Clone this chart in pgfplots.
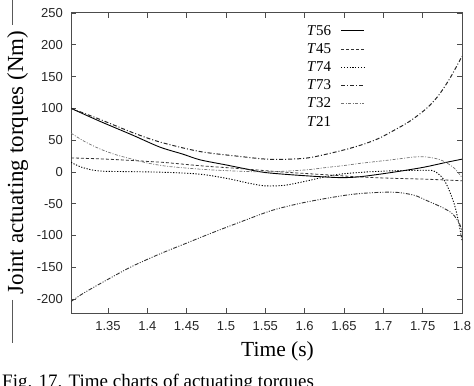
\documentclass[border=0pt]{standalone}
\usepackage{fontspec}
\setmainfont{Liberation Serif}
\newfontfamily\sansf{Liberation Sans}
\usepackage{pgfplots}
\pgfplotsset{compat=1.18}
\begin{document}
\begin{tikzpicture}
\useasboundingbox (0,0) rectangle (474bp,386bp);
\clip (0,0) rectangle (474bp,386bp);
\begin{axis}[
  at={(71bp,73bp)}, anchor=south west,
  scale only axis, width=391bp, height=300bp,
  xmin=1.303, xmax=1.8, ymin=-222, ymax=250,
  xtick={1.35,1.4,1.45,1.5,1.55,1.6,1.65,1.7,1.75,1.8},
  xticklabels={1.35,1.4,1.45,1.5,1.55,1.6,1.65,1.7,1.75,1.8},
  ytick={-200,-150,-100,-50,0,50,100,150,200,250},
  yticklabels={-200,-150,-100,-50,0,50,100,150,200,250},
  tick align=inside, major tick length=5bp,
  every tick/.style={gray!60!black, line width=0.6bp},
  axis line style={gray!60!black, line width=1bp},
  xticklabel style={font=\sansf\fontsize{13bp}{15bp}\selectfont, inner sep=0pt, yshift=-8bp, text=black!85},
  yticklabel style={font=\sansf\fontsize{13bp}{15bp}\selectfont, inner sep=0pt, xshift=-8bp, text=black!85},
  legend plot pos=right,
  legend cell align=left,
  legend image code/.code={\draw[#1] (0bp,0bp) -- (23bp,0bp);},
  legend style={draw=none, fill=none, at={(rel axis cs:0.603,0.96)}, anchor=north west,
    inner sep=0pt, row sep=6.8bp, column sep=9.5bp,
    nodes={inner sep=0pt, font=\fontsize{15bp}{17bp}\selectfont}},
]
% T56 solid
\addplot[black, line width=0.9bp, smooth] coordinates {
(1.303,100) (1.339,80) (1.381,58) (1.416,39) (1.445,28) (1.467,19) (1.5,11) (1.52,6)
(1.55,-1) (1.6,-6) (1.645,-9) (1.671,-7.5) (1.71,-1) (1.75,7) (1.78,15) (1.8,20)};
\addlegendentry{\textit{T}56}
% T45 dashed
\addplot[black!80, line width=0.8bp, dash pattern=on 3bp off 2bp, smooth] coordinates {
(1.303,22) (1.35,20) (1.4,16.5) (1.424,14.6) (1.47,9.4) (1.52,5) (1.57,0) (1.62,-4)
(1.671,-8) (1.71,-10) (1.755,-11.5) (1.8,-14)};
\addlegendentry{\textit{T}45}
% T74 dotted
\addplot[black, line width=0.9bp, dash pattern=on 1.2bp off 1.6bp, smooth, tension=0.5] coordinates {
(1.303,15) (1.315,8) (1.33,3) (1.345,1) (1.37,0.5) (1.4,0) (1.43,-1) (1.467,-3.6)
(1.5,-10) (1.53,-18) (1.55,-22) (1.575,-21) (1.6,-15) (1.625,-8) (1.645,-3.6) (1.68,0)
(1.72,2) (1.755,2.5) (1.765,1) (1.775,-9) (1.782,-24) (1.79,-50) (1.795,-75) (1.8,-108)};
\addlegendentry{\textit{T}74}
% T73 dash-dot
\addplot[black!85, line width=1bp, dash pattern=on 4bp off 2bp on 1bp off 2bp, smooth] coordinates {
(1.303,100) (1.339,83) (1.381,62) (1.416,47) (1.467,32) (1.52,24) (1.552,20) (1.58,20)
(1.607,22.5) (1.645,33) (1.671,42) (1.693,52) (1.713,65) (1.734,80) (1.755,100) (1.77,120)
(1.785,148) (1.8,182)};
\addlegendentry{\textit{T}73}
% T32 thin dash-dot
\addplot[black!55, line width=0.7bp, dash pattern=on 3bp off 1.5bp on 1bp off 1.5bp, smooth] coordinates {
(1.303,61) (1.32,48) (1.34,36) (1.36,27) (1.381,20) (1.4,14) (1.424,9) (1.45,6) (1.47,4)
(1.5,2) (1.55,0) (1.6,3) (1.628,7) (1.65,10) (1.671,13.5) (1.71,19) (1.74,23.5) (1.755,23.5)
(1.77,20) (1.78,14.6) (1.79,6) (1.797,-4) (1.8,-9)};
\addlegendentry{\textit{T}32}
% T21
\addplot[black!80, line width=0.9bp, dash pattern=on 4bp off 1.5bp on 1bp off 1.5bp on 1bp off 1.5bp, smooth,
  legend image code/.code={}] coordinates {
(1.303,-204) (1.32,-190) (1.35,-169) (1.38,-149) (1.416,-129) (1.45,-112) (1.48,-97)
(1.52,-78) (1.56,-60) (1.6,-48) (1.645,-38) (1.671,-34) (1.7,-32) (1.72,-32.5) (1.74,-37)
(1.755,-45) (1.775,-56) (1.788,-66) (1.797,-82) (1.8,-95)};
\addlegendentry{\textit{T}21}
\end{axis}
% axis labels
\node[rotate=90, anchor=base, inner sep=0pt, font=\fontsize{23bp}{27bp}\selectfont] at (23bp,223.5bp) {Joint actuating torques (Nm)};
\draw[gray!70!black, line width=0.9bp] (12bp,390bp) -- (12bp,361bp);
\draw[gray!70!black, line width=0.9bp] (12bp,86bp) -- (12bp,43bp);
\node[anchor=base, inner sep=0pt, font=\fontsize{21.5bp}{25bp}\selectfont] at (277.5bp,29.3bp) {Time (s)};
\node[anchor=base west, inner sep=0pt, font=\fontsize{19bp}{22bp}\selectfont] at (2bp,-1.5bp) {Fig. 17. Time charts of actuating torques};
\end{tikzpicture}
\end{document}
